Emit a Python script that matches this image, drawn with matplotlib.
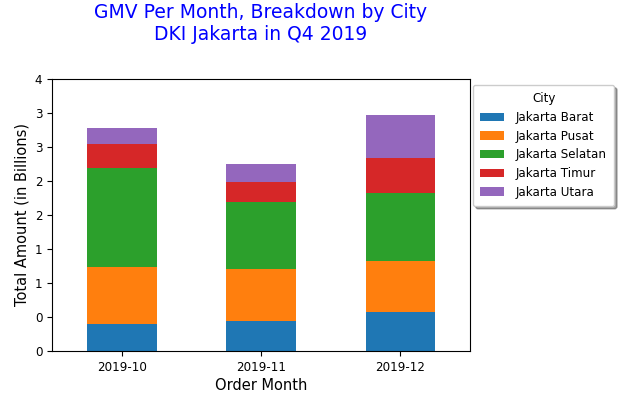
import matplotlib
matplotlib.use("Agg")
import matplotlib.pyplot as plt
import numpy as np

months = ["2019-10", "2019-11", "2019-12"]
cities = ["Jakarta Barat", "Jakarta Pusat", "Jakarta Selatan", "Jakarta Timur", "Jakarta Utara"]

# GMV per city, in billions
barat = [0.393, 0.447, 0.574]
pusat = [0.844, 0.755, 0.756]
selatan = [1.452, 0.992, 0.991]
timur = [0.348, 0.294, 0.516]
utara = [0.241, 0.260, 0.628]

series = [barat, pusat, selatan, timur, utara]
colors = ["#1f77b4", "#ff7f0e", "#2ca02c", "#d62728", "#9467bd"]

fig = plt.figure(figsize=(6.29, 3.98), dpi=100)
ax = fig.add_axes([52 / 629, 47 / 398, 418 / 629, 272 / 398])

x = np.arange(len(months))
bottom = np.zeros(len(months))
for name, vals, c in zip(cities, series, colors):
    ax.bar(x, vals, width=0.5, bottom=bottom, color=c, label=name, linewidth=0)
    bottom += np.array(vals)

ax.set_xlim(-0.5, 2.5)
ax.set_ylim(0, 4)
ax.set_xticks(x)
ax.set_xticklabels(months, fontsize=8.6)
# y ticks every 0.5 but labelled as truncated integers
yt = np.arange(0, 4.01, 0.5)
ax.set_yticks(yt)
ax.set_yticklabels([str(int(v)) for v in yt], fontsize=8.6)

ax.set_xlabel("Order Month", fontsize=10.5, labelpad=3)
ax.set_ylabel("Total Amount (in Billions)", fontsize=10.5)
ax.set_title("GMV Per Month, Breakdown by City\nDKI Jakarta in Q4 2019",
             color="blue", fontsize=13.5, pad=28)

leg = ax.legend(title="City", loc="upper left", bbox_to_anchor=(473 / 629, 1 - 85 / 398),
                bbox_transform=fig.transFigure, borderaxespad=0, shadow=True,
                fontsize=8.6, title_fontsize=8.6, borderpad=0.6,
                handletextpad=1.0, labelspacing=0.48)

fig.savefig("out.png", dpi=100)
